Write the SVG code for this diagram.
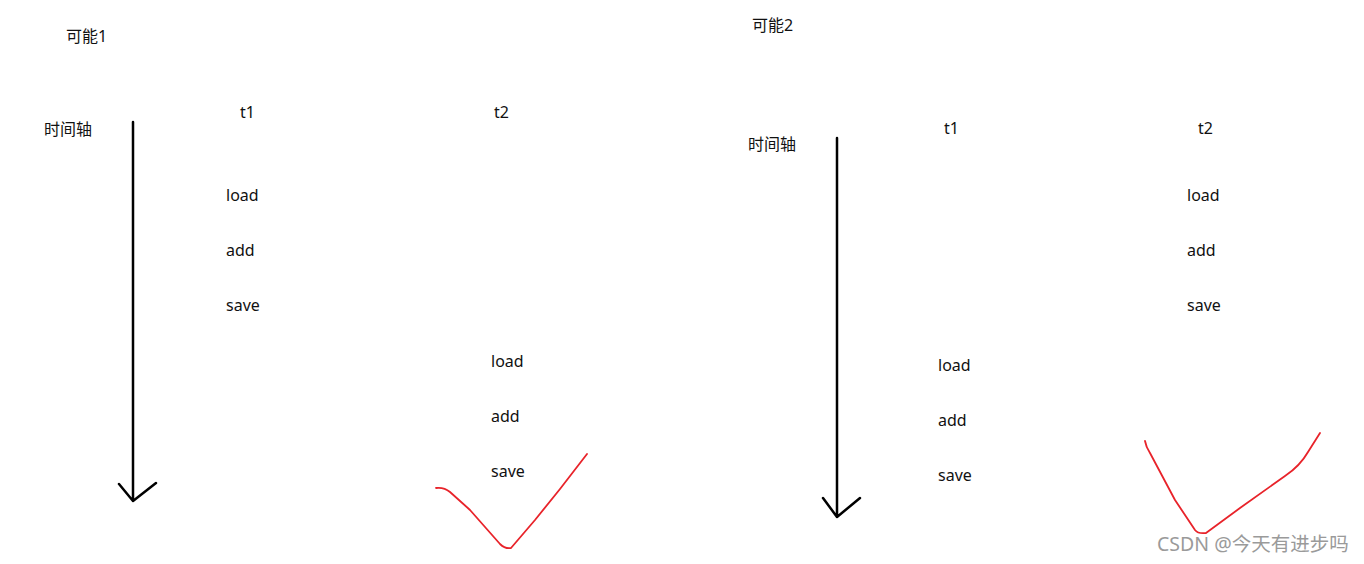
<svg xmlns="http://www.w3.org/2000/svg" width="1364" height="564" viewBox="0 0 1364 564">
<style>
text{font-family:"Noto Sans","Noto Sans CJK SC",sans-serif;font-size:16px;fill:#111}
.ax{stroke:#000;stroke-width:2.5;fill:none;stroke-linecap:round;stroke-linejoin:round}
.ck{stroke:#e8232a;stroke-width:1.8;fill:none;stroke-linecap:round;stroke-linejoin:round}
.wm{font-size:19.5px;fill:#9a9a9a}
</style>
<rect width="1364" height="564" fill="#fff"/>
<g id="case1">
<text x="66" y="42">可能1</text>
<text x="44" y="135">时间轴</text>
<text x="240" y="118">t1</text>
<text x="494" y="118">t2</text>
<text x="226" y="201">load</text>
<text x="226" y="256">add</text>
<text x="226" y="311">save</text>
<text x="491" y="367">load</text>
<text x="491" y="422">add</text>
<text x="491" y="477">save</text>
<path class="ax" d="M133 122 V501 M119 484 L133 501 L156 483"/>
<path class="ck" d="M436 488 Q444 487 450 492 L470 510 L500 544 Q505 549 511 548 L535 520 L560 489 L587 454"/>
</g>
<g id="case2">
<text x="752" y="31">可能2</text>
<text x="748" y="150">时间轴</text>
<text x="944" y="134">t1</text>
<text x="1198" y="134">t2</text>
<text x="1187" y="201">load</text>
<text x="1187" y="256">add</text>
<text x="1187" y="311">save</text>
<text x="938" y="371">load</text>
<text x="938" y="426">add</text>
<text x="938" y="481">save</text>
<path class="ax" d="M837 138 V517 M823 498 L837 517 L860 498"/>
<path class="ck" d="M1145 441 Q1146 447 1150 453 L1175 500 L1195 530 Q1198 534 1206 533 L1240 508 L1285 476 Q1300 466 1308 452 L1320 433"/>
</g>
<text class="wm" x="1157" y="551">CSDN @今天有进步吗</text>
</svg>
